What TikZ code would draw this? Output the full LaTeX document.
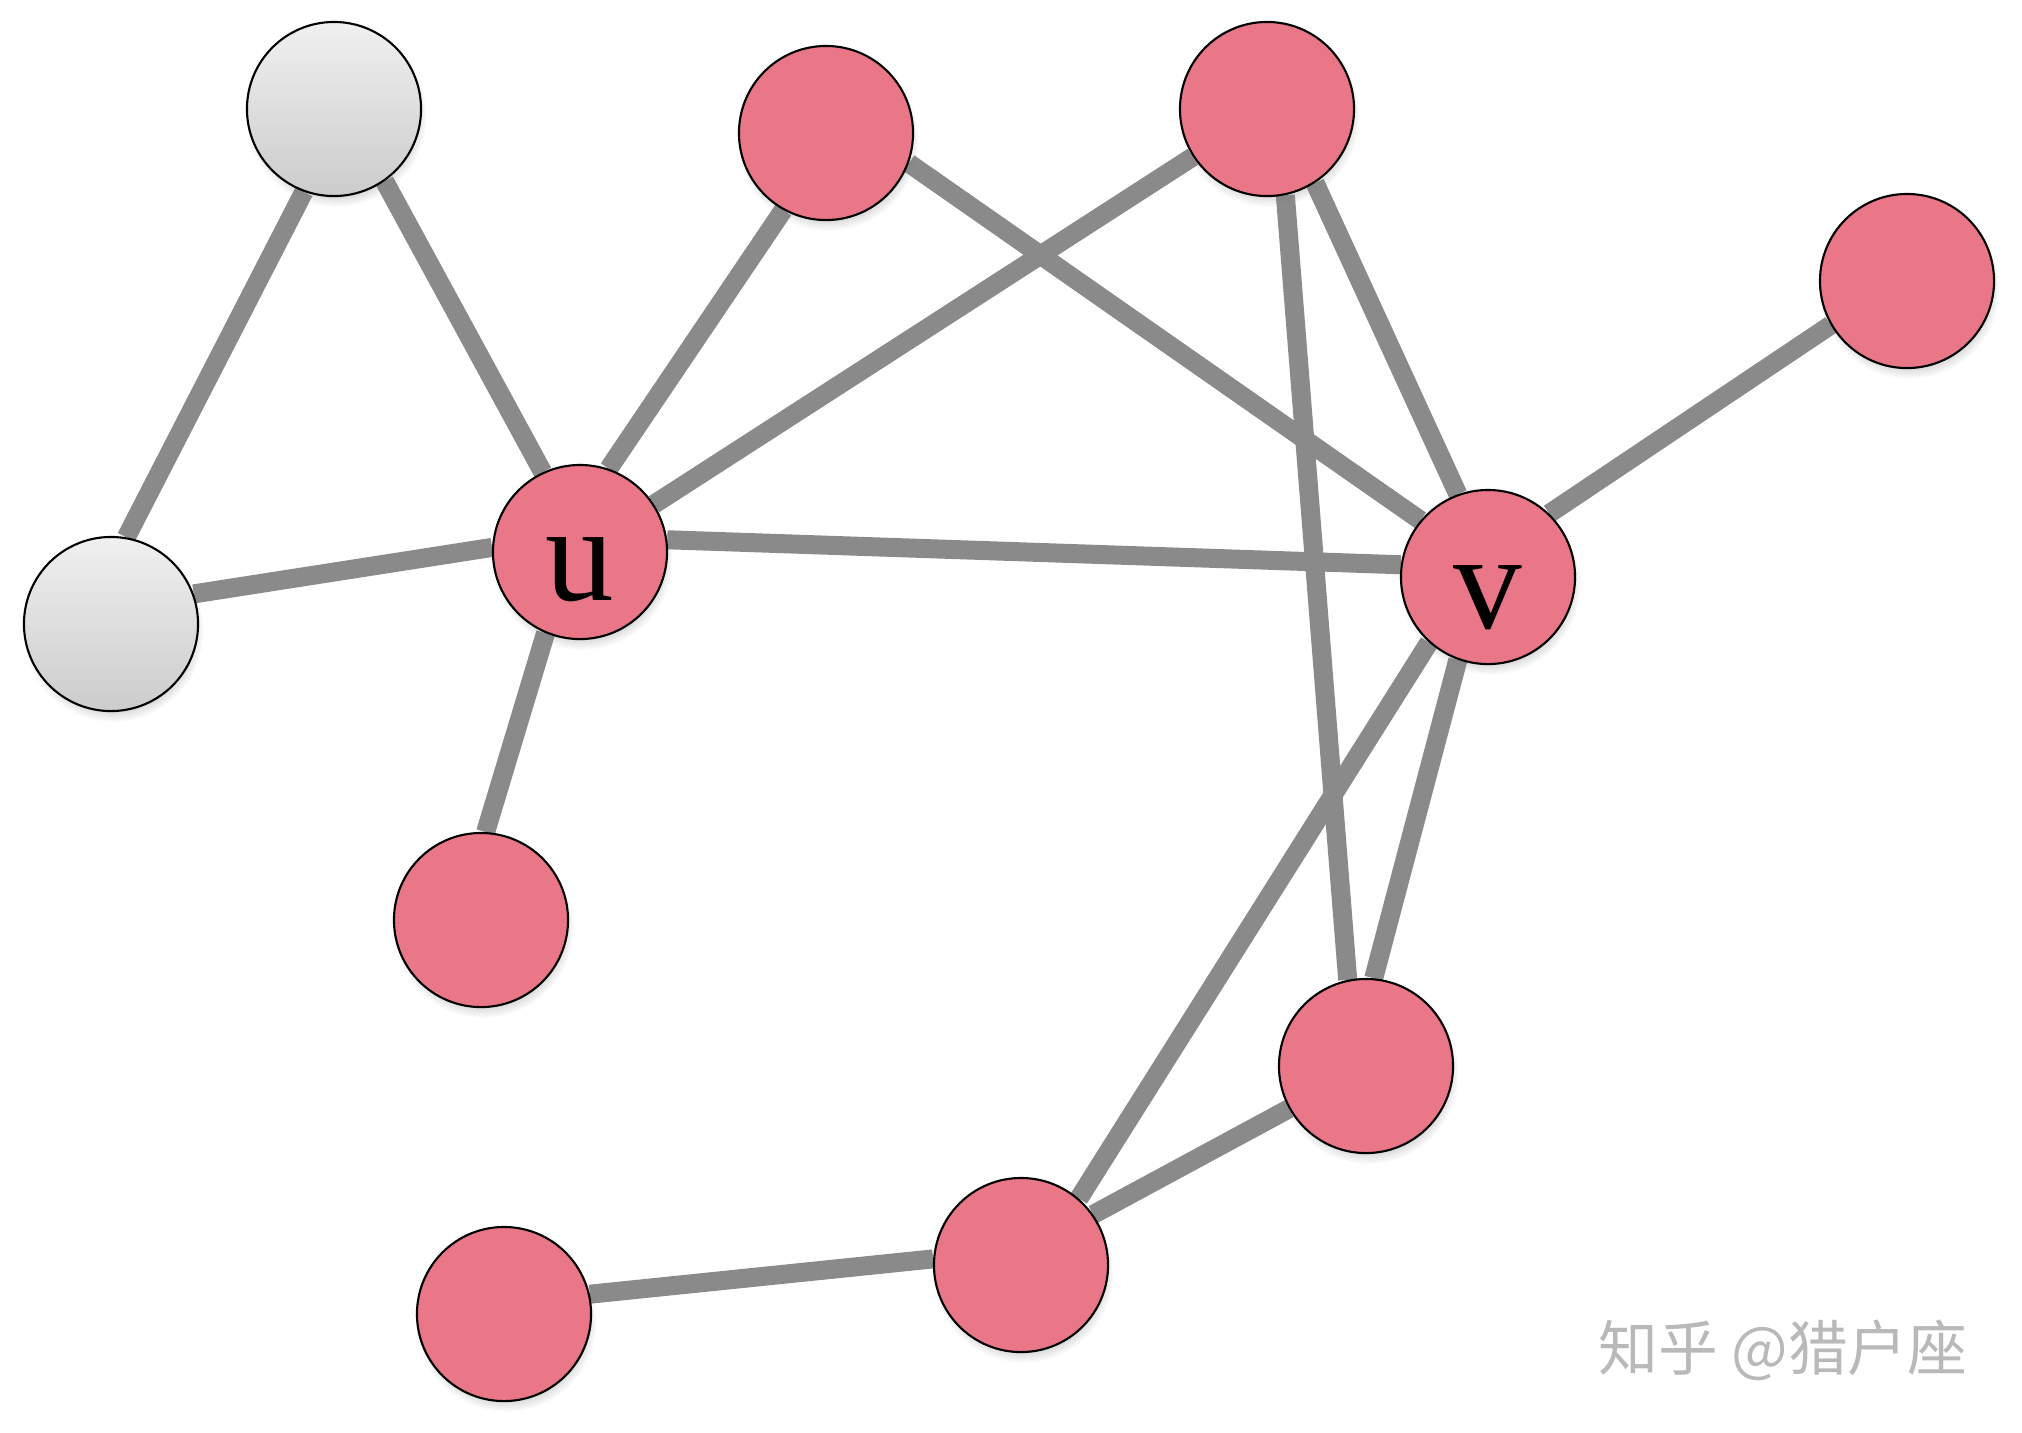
\documentclass[tikz,border=0pt]{standalone}
\usepackage{fontspec}
\setmainfont{Liberation Serif}
\newfontfamily\cjk{Noto Sans CJK SC}
\usetikzlibrary{backgrounds,shadows}

\definecolor{nodepink}{HTML}{E97788}
\definecolor{edgegray}{HTML}{8A8A8A}

\tikzset{
    vtx/.style={circle, draw=black, line width=0.6pt, minimum size=1.74cm, inner sep=0pt,
        fill=nodepink, font=\fontsize{39}{44}\selectfont,
        circular drop shadow={opacity=0.35, shadow scale=1.04, shadow xshift=0.02cm, shadow yshift=-0.07cm}},
    grayvtx/.style={vtx, top color=gray!12, bottom color=gray!40},
    lowtext/.style={text height=#1, text depth=0cm},
    edge/.style={draw=edgegray, line width=0.19cm},
}

\begin{document}
\begin{tikzpicture}[x=0.01cm, y=-0.01cm]
    \useasboundingbox (0, 0) rectangle (2022, 1432);
%%   kw   (name)   (x, y)   {text}
    \node[grayvtx] (g1) at (334, 109)  {};
    \node[grayvtx] (g2) at (111, 624)  {};
    \node[vtx, lowtext=0.96cm] (u) at (580, 552) {u};
    \node[vtx] (t1) at (826, 133)   {};
    \node[vtx] (t2) at (1267, 109)  {};
    \node[vtx] (rt) at (1907, 281)  {};
    \node[vtx, lowtext=1.02cm] (v) at (1488, 577) {v};
    \node[vtx] (dn) at (481, 920)   {};
    \node[vtx] (lr) at (1366, 1066) {};
    \node[vtx] (bm) at (1021, 1265) {};
    \node[vtx] (bl) at (504, 1314)  {};

    \node[text=gray!55, font=\cjk\fontsize{17}{20}\selectfont] (mark) at (1783, 1350) {知乎 @猎户座};

    \begin{scope}[on background layer]
    \draw[edge] (g1.250) -- (g2.80);
    \draw[edge] (g1.305) -- (u.115);
    \draw[edge] (g2.20) -- (u.177);
    \draw[edge] (u.71) -- (t1.241);
    \draw[edge] (u) -- (t2);
    \draw[edge] (u.8) -- (v.172);
    \draw[edge] (u.247) -- (dn.87);
    \draw[edge] (t1.340) -- (v.140);
    \draw[edge] (t2.303) -- (v.110);
    \draw[edge] (t2.282) -- (lr.102);
    \draw[edge] (v.46) -- (rt.210);
    \draw[edge] (v.250) -- (lr.85);
    \draw[edge] (v.228) -- (bm.49);
    \draw[edge] (lr.209) -- (bm.35);
    \draw[edge] (bm.176) -- (bl.13);
    \end{scope}
\end{tikzpicture}
\end{document}
